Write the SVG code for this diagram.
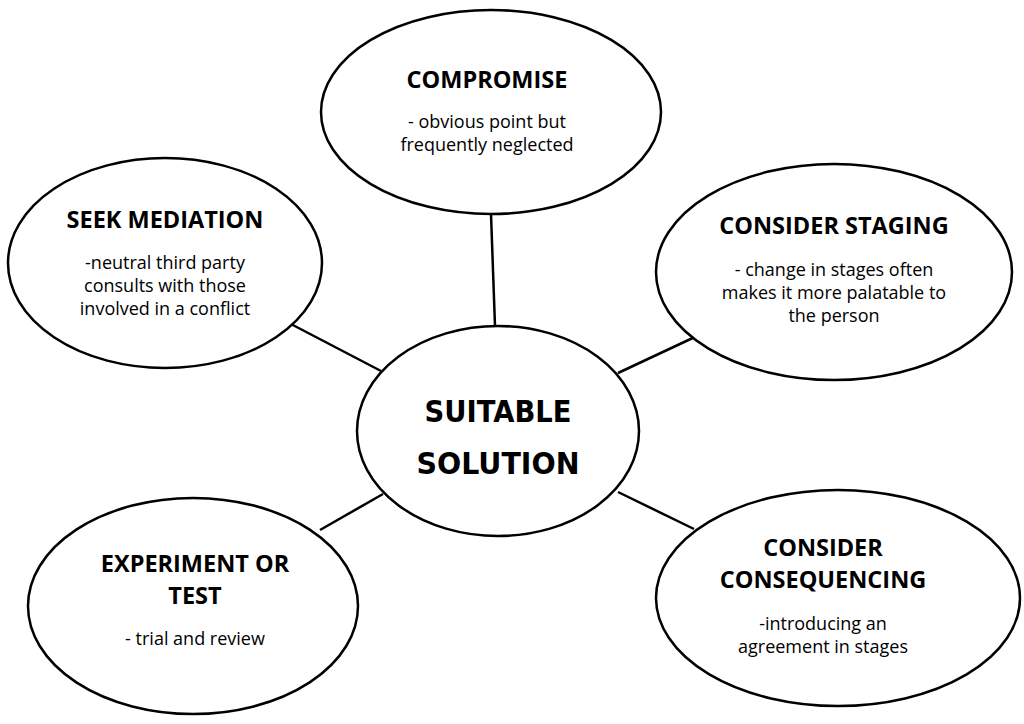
<svg xmlns="http://www.w3.org/2000/svg" width="1024" height="724" viewBox="0 0 1024 724">
<style>
ellipse{fill:#fff;stroke:#000;stroke-width:2.5}
line{stroke:#000;stroke-width:2.5}
.t{font-family:"Open Sans","Liberation Sans",sans-serif;font-weight:bold;font-size:23.5px;text-anchor:middle;fill:#000}
.b{font-family:"Open Sans","Liberation Sans",sans-serif;font-size:18px;text-anchor:middle;fill:#000}
.c{font-family:"DejaVu Sans","Liberation Sans",sans-serif;font-weight:bold;font-size:31px;text-anchor:middle;fill:#000}
</style>
<rect width="1024" height="724" fill="#fff"/>
<g id="connectors">
<line x1="491" y1="214" x2="495" y2="326"/>
<line x1="289" y1="323" x2="381" y2="371"/>
<line x1="618" y1="373" x2="697" y2="336"/>
<line x1="618" y1="492" x2="694" y2="529"/>
<line x1="320" y1="530" x2="383" y2="494"/>
</g>
<g id="compromise"><ellipse cx="491" cy="112" rx="170" ry="102"/>
<text class="t" x="487" y="88">COMPROMISE</text>
<text class="b" x="487" y="128">- obvious point but</text>
<text class="b" x="487" y="151">frequently neglected</text></g>
<g id="mediation"><ellipse cx="165" cy="263" rx="157" ry="105"/>
<text class="t" x="165" y="228">SEEK MEDIATION</text>
<text class="b" x="165" y="269">-neutral third party</text>
<text class="b" x="165" y="292">consults with those</text>
<text class="b" x="165" y="315">involved in a conflict</text></g>
<g id="staging"><ellipse cx="834" cy="272" rx="178" ry="108"/>
<text class="t" x="834" y="234">CONSIDER STAGING</text>
<text class="b" x="834" y="276">- change in stages often</text>
<text class="b" x="834" y="299">makes it more palatable to</text>
<text class="b" x="834" y="322">the person</text></g>
<g id="center"><ellipse cx="498" cy="431" rx="141" ry="105"/>
<text class="c" x="498" y="422" textLength="147" lengthAdjust="spacingAndGlyphs">SUITABLE</text>
<text class="c" x="498" y="474" textLength="163" lengthAdjust="spacingAndGlyphs">SOLUTION</text></g>
<g id="experiment"><ellipse cx="193" cy="606" rx="165" ry="108"/>
<text class="t" x="195" y="572">EXPERIMENT OR</text>
<text class="t" x="195" y="604">TEST</text>
<text class="b" x="195" y="645">- trial and review</text></g>
<g id="consequencing"><ellipse cx="838" cy="598" rx="182" ry="108"/>
<text class="t" x="823" y="556">CONSIDER</text>
<text class="t" x="823" y="588">CONSEQUENCING</text>
<text class="b" x="823" y="630">-introducing an</text>
<text class="b" x="823" y="653">agreement in stages</text></g>
</svg>
